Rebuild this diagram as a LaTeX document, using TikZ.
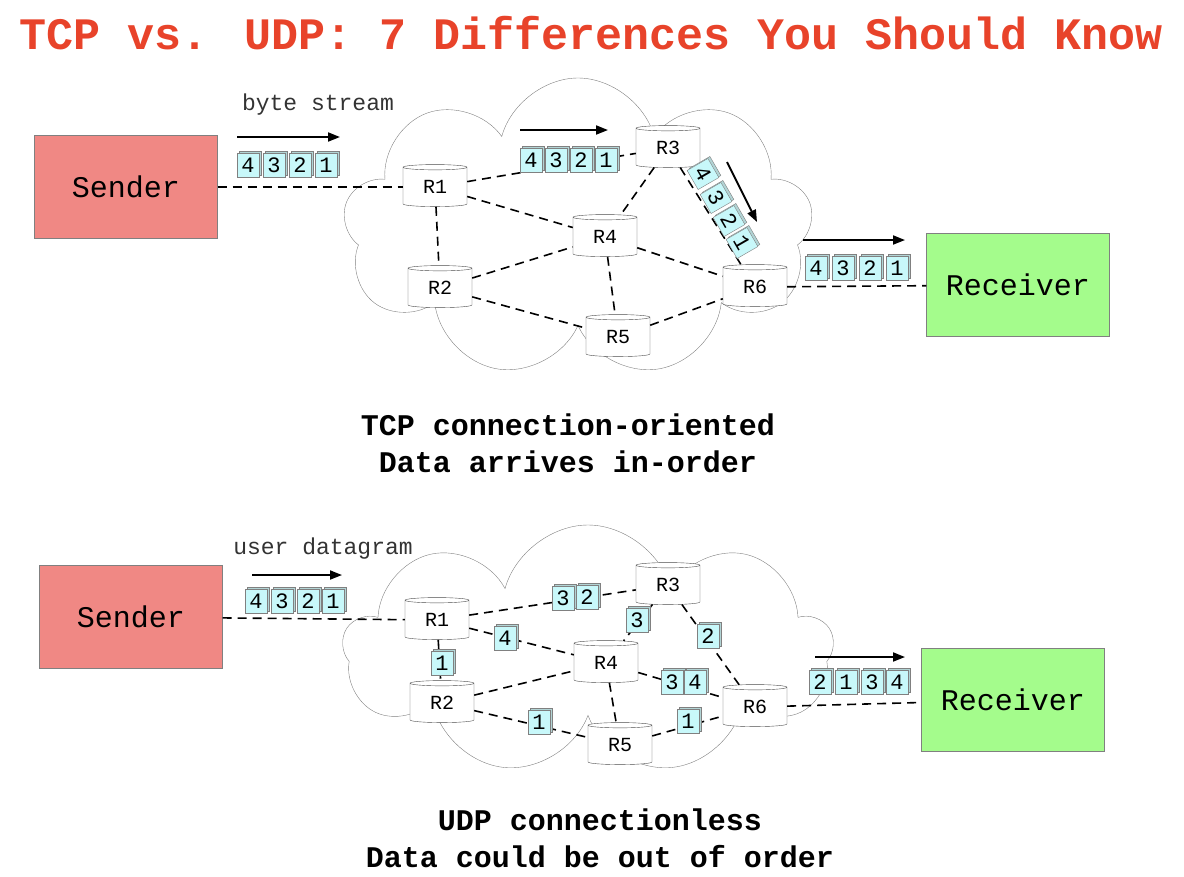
\documentclass[tikz,border=0pt]{standalone}
\usepackage{fontspec}
\setmainfont{Liberation Mono}
\usetikzlibrary{shapes.geometric,shapes.symbols,shadows,arrows.meta}
\definecolor{ttl}{HTML}{E8432A}
\definecolor{snd}{HTML}{F08884}
\definecolor{rcv}{HTML}{A4FC8C}
\definecolor{pk}{HTML}{C8F8FA}
\tikzset{
 box/.style={draw=gray, minimum width=183pt, minimum height=103pt, font=\fontsize{30}{34}\selectfont},
 rt/.style={cylinder, shape border rotate=90, aspect=0.22, draw=black!70, fill=white, minimum width=64pt, minimum height=42pt, font=\fontsize{20}{22}\selectfont, inner sep=0pt},
 pkt/.style={draw=gray, fill=pk, minimum width=22pt, minimum height=24pt, inner sep=0pt, font=\fontsize{22}{24}\selectfont, copy shadow={shadow xshift=2pt, shadow yshift=2pt, fill=pk!70!gray, draw=gray}},
 ln/.style={dashed, dash pattern=on 9pt off 6pt, line width=1.6pt},
 ar/.style={-{Triangle[length=12pt,width=9pt]}, line width=1.8pt},
 cl/.style={cloud, cloud puffs=9, draw=gray, aspect=1.6, inner sep=0pt},
 captxt/.style={font=\bfseries\fontsize{30}{37}\selectfont, align=center},
 lbl/.style={font=\fontsize{23}{26}\selectfont, text=black!80}
}
\begin{document}
\begin{tikzpicture}[x=1pt,y=-1pt]
\useasboundingbox (0,0) rectangle (1184,876);
\node[font=\bfseries\fontsize{45}{50}\selectfont, text=ttl] (title) at (591,33) {TCP vs. UDP: 7 Differences You Should Know};
% ---------- TCP
\node[cl, minimum width=470pt, minimum height=300pt] (c1) at (578,228) {};
\node[box, fill=snd] (s1) at (126,187) {Sender};
\node[box, fill=rcv] (r1) at (1018,285) {Receiver};
\node[rt] (a1) at (435,187) {R1};
\node[rt] (a3) at (668,148) {R3};
\node[rt] (a2) at (440,288) {R2};
\node[rt] (a4) at (605,237) {R4};
\node[rt] (a5) at (618,337) {R5};
\node[rt] (a6) at (755,287) {R6};
\foreach \u/\v in {s1/a1,a1/a3,a1/a2,a1/a4,a3/a4,a3/a6,a2/a4,a2/a5,a4/a5,a4/a6,a5/a6,a6/r1}
  \draw[ln] (\u) -- (\v);
\node[lbl] (bs) at (318,105) {byte stream};
\coordinate (p1) at (237,137); \coordinate (p2) at (340,137);
\draw[ar] (p1) -- (p2);
\foreach \x/\t [count=\i] in {248/4,274/3,300/2,326/1} \node[pkt] (sa\i) at (\x,165) {\t};
\coordinate (p3) at (520,130); \coordinate (p4) at (608,130);
\draw[ar] (p3) -- (p4);
\foreach \x/\t [count=\i] in {531/4,556/3,581/2,606/1} \node[pkt] (ma\i) at (\x,160) {\t};
\foreach \x/\y/\t [count=\i] in {703/174/4,716/198/3,729/221/2,742/243/1} \node[pkt, rotate=-60] (da\i) at (\x,\y) {\t};
\coordinate (p5) at (727,162); \coordinate (p6) at (757,222);
\draw[ar] (p5) -- (p6);
\coordinate (p7) at (803,240); \coordinate (p8) at (905,240);
\draw[ar] (p7) -- (p8);
\foreach \x/\t [count=\i] in {816/4,843/3,870/2,897/1} \node[pkt] (ra\i) at (\x,268) {\t};
\node[captxt] (t1) at (568,443) {TCP connection-oriented\\Data arrives in-order};
% ---------- UDP
\node[cl, minimum width=490pt, minimum height=250pt] (c2) at (588,650) {};
\node[box, fill=snd] (s2) at (131,617) {Sender};
\node[box, fill=rcv] (r2) at (1013,700) {Receiver};
\node[rt] (b1) at (437,620) {R1};
\node[rt] (b3) at (668,585) {R3};
\node[rt] (b2) at (442,703) {R2};
\node[rt] (b4) at (606,663) {R4};
\node[rt] (b5) at (620,745) {R5};
\node[rt] (b6) at (755,707) {R6};
\foreach \u/\v in {s2/b1,b1/b3,b1/b2,b1/b4,b3/b4,b3/b6,b2/b4,b2/b5,b4/b5,b4/b6,b5/b6,b6/r2}
  \draw[ln] (\u) -- (\v);
\node[lbl] (ud) at (323,549) {user datagram};
\coordinate (q1) at (252,575); \coordinate (q2) at (342,575);
\draw[ar] (q1) -- (q2);
\foreach \x/\t [count=\i] in {256/4,282/3,308/2,333/1} \node[pkt] (sb\i) at (\x,601) {\t};
\node[pkt] (k1) at (563,598) {3};
\node[pkt] (k2) at (587,597) {2};
\node[pkt] (k3) at (505,638) {4};
\node[pkt] (k4) at (442,663) {1};
\node[pkt] (k5) at (637,620) {3};
\node[pkt] (k6) at (708,636) {2};
\node[pkt] (k7) at (672,682) {3};
\node[pkt] (k8) at (695,682) {4};
\node[pkt] (k9) at (539,722) {1};
\node[pkt] (k10) at (688,721) {1};
\coordinate (q3) at (815,657); \coordinate (q4) at (905,657);
\draw[ar] (q3) -- (q4);
\foreach \x/\t [count=\i] in {820/2,846/1,872/3,897/4} \node[pkt] (rb\i) at (\x,682) {\t};
\node[captxt] (t2) at (600,838) {UDP connectionless\\Data could be out of order};
\end{tikzpicture}
\end{document}
